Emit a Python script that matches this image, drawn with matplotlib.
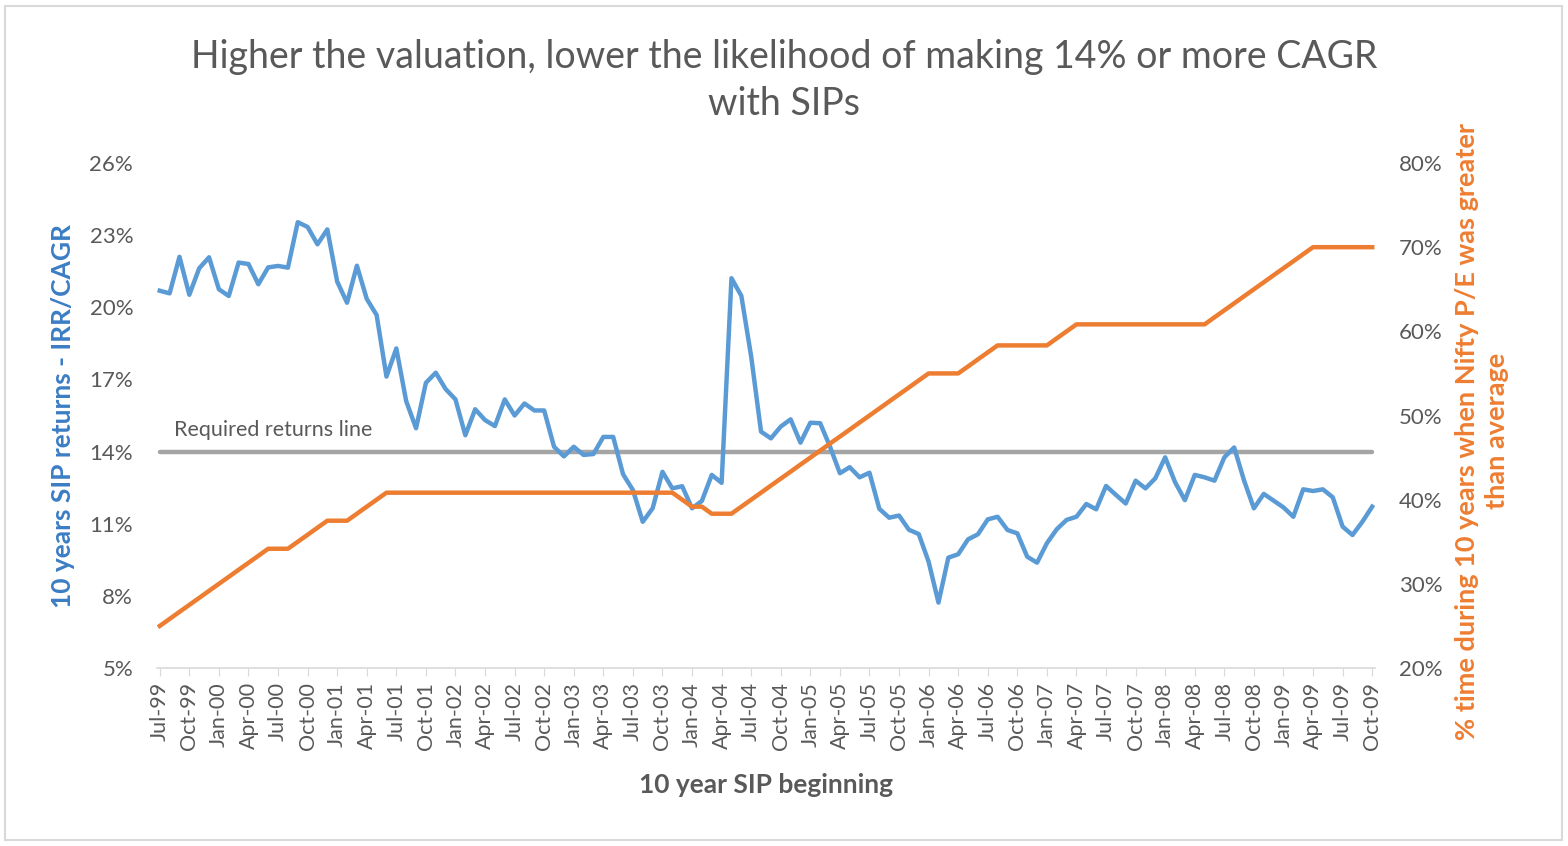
import matplotlib
matplotlib.use('Agg')
import matplotlib.pyplot as plt
import matplotlib.patches as patches
import pandas as pd

# month each 10 year SIP started (Jul-99 .. Oct-09)
months = pd.date_range('1999-07-01', periods=124, freq='MS').strftime('%b-%y').tolist()

# 10 year SIP IRR / CAGR, %
sip_returns = [
    20.69, 20.58, 22.10, 20.52, 21.62, 22.08, 20.75, 20.47, 21.86, 21.80,
    20.96, 21.66, 21.72, 21.65, 23.54, 23.34, 22.62, 23.24, 21.07, 20.19,
    21.73, 20.35, 19.68, 17.12, 18.29, 16.10, 14.97, 16.86, 17.28, 16.60,
    16.17, 14.68, 15.76, 15.31, 15.06, 16.17, 15.50, 16.00, 15.71, 15.71,
    14.20, 13.80, 14.20, 13.86, 13.90, 14.61, 14.61, 13.06, 12.40, 11.08,
    11.64, 13.16, 12.47, 12.56, 11.64, 11.95, 13.03, 12.70, 21.21, 20.48,
    17.95, 14.83, 14.55, 15.04, 15.34, 14.37, 15.20, 15.18, 14.20, 13.10,
    13.35, 12.93, 13.12, 11.62, 11.25, 11.34, 10.75, 10.57, 9.42, 7.72,
    9.59, 9.73, 10.35, 10.56, 11.18, 11.29, 10.74, 10.60, 9.63, 9.38,
    10.19, 10.77, 11.16, 11.29, 11.82, 11.60, 12.57, 12.20, 11.84, 12.79,
    12.47, 12.89, 13.76, 12.73, 11.98, 13.03, 12.93, 12.79, 13.76, 14.17,
    12.80, 11.64, 12.24, 11.96, 11.68, 11.29, 12.43, 12.36, 12.43, 12.10,
    10.88, 10.53, 11.08, 11.71,
]

# % of the 10 years when Nifty P/E was above average
pe_above_avg = [
    25.00, 25.83, 26.67, 27.50, 28.33, 29.17, 30.00, 30.83, 31.67, 32.50,
    33.33, 34.17, 34.17, 34.17, 35.00, 35.83, 36.67, 37.50, 37.50, 37.50,
    38.33, 39.17, 40.00, 40.83, 40.83, 40.83, 40.83, 40.83, 40.83, 40.83,
    40.83, 40.83, 40.83, 40.83, 40.83, 40.83, 40.83, 40.83, 40.83, 40.83,
    40.83, 40.83, 40.83, 40.83, 40.83, 40.83, 40.83, 40.83, 40.83, 40.83,
    40.83, 40.83, 40.83, 40.00, 39.17, 39.17, 38.33, 38.33, 38.33, 39.17,
    40.00, 40.83, 41.67, 42.50, 43.33, 44.17, 45.00, 45.83, 46.67, 47.50,
    48.33, 49.17, 50.00, 50.83, 51.67, 52.50, 53.33, 54.17, 55.00, 55.00,
    55.00, 55.00, 55.83, 56.67, 57.50, 58.33, 58.33, 58.33, 58.33, 58.33,
    58.33, 59.17, 60.00, 60.83, 60.83, 60.83, 60.83, 60.83, 60.83, 60.83,
    60.83, 60.83, 60.83, 60.83, 60.83, 60.83, 60.83, 61.67, 62.50, 63.33,
    64.17, 65.00, 65.83, 66.67, 67.50, 68.33, 69.17, 70.00, 70.00, 70.00,
    70.00, 70.00, 70.00, 70.00,
]

required_return = 14
left_ticks = [5, 8, 11, 14, 17, 20, 23, 26]
right_ticks = [20, 30, 40, 50, 60, 70, 80]

plt.rcParams['font.family'] = ['Lato', 'DejaVu Sans']
txt = '#595959'

fig = plt.figure(figsize=(15.68, 8.46), dpi=100)
ax = fig.add_axes([0.100, 0.2104, 0.777, 0.5969])
ax2 = ax.twinx()

x = list(range(len(months)))
ax.plot(x, [required_return] * len(x), color='#A5A5A5', lw=3.2, solid_capstyle='round')
ax.plot(x, sip_returns, color='#5B9BD5', lw=3.2, solid_joinstyle='round')
ax2.plot(x, pe_above_avg, color='#ED7D31', lw=3.2, solid_joinstyle='round')

ax.text(1.4, 14.9, 'Required returns line', color=txt, fontsize=15.5, va='center')

ax.set_xlim(-0.3, len(x) - 0.7)
ax.set_ylim(5, 26)
ax2.set_ylim(20, 80)
ax.set_yticks(left_ticks)
ax.set_yticklabels(['%d%%' % t for t in left_ticks])
ax2.set_yticks(right_ticks)
ax2.set_yticklabels(['%d%%' % t for t in right_ticks])
ax.set_xticks(x[::3])
ax.set_xticklabels(months[::3], rotation=90)

for a in (ax, ax2):
    for s in ['top', 'left', 'right']:
        a.spines[s].set_visible(False)
ax2.spines['bottom'].set_visible(False)
ax.spines['bottom'].set_color('#D9D9D9')
ax.spines['bottom'].set_linewidth(1.2)
ax.tick_params(axis='x', colors='#D9D9D9', labelcolor=txt, labelsize=15.5, length=6, pad=4)
ax.tick_params(axis='y', length=0, labelcolor=txt, labelsize=16, pad=17)
ax2.tick_params(axis='y', length=0, labelcolor=txt, labelsize=16, pad=17)

fig.text(0.5, 0.905, 'Higher the valuation, lower the likelihood of making 14% or more CAGR\nwith SIPs',
         ha='center', va='center', fontsize=27, color=txt, linespacing=1.4)
fig.text(0.5 * (0.100 + 0.877), 0.072, '10 year SIP beginning', ha='center', va='center',
         fontsize=19, fontweight='bold', color=txt)
fig.text(63 / 1568, 1 - 416 / 846, '10 years SIP returns - IRR/CAGR', rotation=90,
         ha='center', va='center', fontsize=19, fontweight='bold', color='#3B7DC4')
fig.text(1482 / 1568, 1 - 431 / 846, '% time during 10 years when Nifty P/E was greater\nthan average',
         rotation=90, ha='center', va='center', multialignment='center', fontsize=19.5,
         fontweight='bold', color='#ED7D31', linespacing=1.3)

fig.patches.append(patches.Rectangle((5 / 1568, 6 / 846), 1557 / 1568, 834 / 846,
                                     transform=fig.transFigure, fill=False,
                                     edgecolor='#D9D9D9', lw=1.5))

fig.savefig('out.png', dpi=100)
